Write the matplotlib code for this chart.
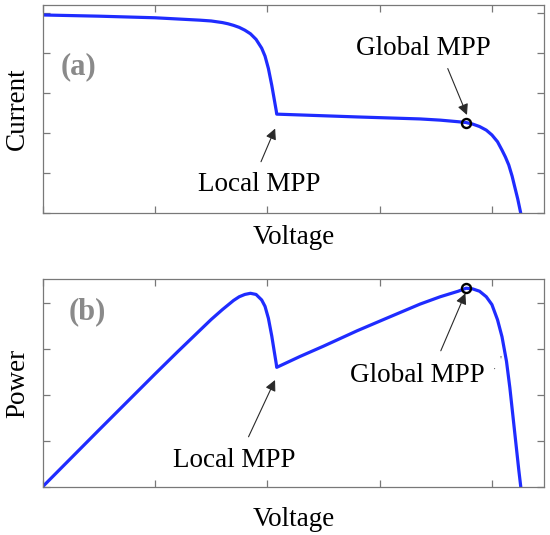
import matplotlib
matplotlib.use("Agg")
import matplotlib.pyplot as plt

# ---- data ----
voltage_i = [0, 5, 10, 12, 14, 15, 16, 16.5, 17, 17.5, 18, 18.5, 19, 19.5, 19.8,
             20.1, 20.4, 20.6, 20.8, 20.84,
             22.9, 28.0, 33.6, 35.4, 37.0, 37.7, 38.3, 38.9, 39.5, 40.0, 40.5,
             40.9, 41.2, 41.5, 41.8, 42.0, 42.3, 42.57]
current = [4.96, 4.93, 4.89, 4.86, 4.83, 4.81, 4.77, 4.74, 4.70, 4.65, 4.58, 4.49,
           4.35, 4.13, 3.93, 3.62, 3.20, 2.88, 2.56, 2.48,
           2.46, 2.41, 2.36, 2.33, 2.29, 2.27, 2.23, 2.17, 2.08, 1.96, 1.79,
           1.58, 1.41, 1.21, 0.93, 0.70, 0.36, 0.0]

voltage_p = [0, 5, 10, 12, 14, 15, 16, 16.5, 17, 17.5, 18, 18.5, 19, 19.5, 19.8,
             20.1, 20.4, 20.6, 20.8, 20.84,
             22.9, 25.0, 28.0, 30.5, 33.6, 35.4, 37.0, 37.7, 38.3, 38.9, 39.5,
             40.0, 40.5, 40.9, 41.3, 41.6, 41.9, 42.2, 42.4, 42.57]
power = [0, 24.6, 49.0, 58.6, 68.0, 72.7, 77.0, 79.0, 81.0, 82.6, 83.6, 84.1,
         83.6, 81.2, 78.4, 73.2, 65.5, 59.4, 53.4, 51.9,
         56.6, 61.1, 67.8, 73.0, 79.4, 82.6, 85.0, 86.3, 86.0, 85.0, 82.6,
         79.2, 72.6, 65.2, 54.5, 43.0, 29.5, 16.0, 7.0, 0]

mpp_v = 37.7
mpp_i = 2.27
mpp_p = 86.3

x_ticks = [0, 10, 20, 30, 40]
i_ticks = [0, 1, 2, 3, 4, 5]
p_ticks = [0, 20, 40, 60, 80]

plt.rcParams['font.family'] = ['Liberation Serif', 'DejaVu Serif']

fig = plt.figure(figsize=(5.5, 5.35), dpi=100)
ax1 = fig.add_axes([0.0776, 0.6013, 0.9115, 0.3894])
ax2 = fig.add_axes([0.0776, 0.0903, 0.9115, 0.3877])

blue = '#1f2cff'
spine_col = '#787878'
fs = 19.5

def style(ax, yticks, ylim, ylabel, xpad):
    ax.set_xlim(0, 44.64)
    ax.set_ylim(*ylim)
    ax.set_xticks(x_ticks)
    ax.set_yticks(yticks)
    ax.tick_params(direction='in', length=5, width=0.9, color=spine_col,
                   top=True, right=True, labelbottom=False, labelleft=False)
    for s in ax.spines.values():
        s.set_color(spine_col)
        s.set_linewidth(0.9)
    ax.set_xlabel('Voltage', fontsize=fs, labelpad=xpad)
    ax.set_ylabel(ylabel, fontsize=fs, labelpad=9)

arrow = dict(arrowstyle='-|>', color='#2a2a2a', lw=0.8, mutation_scale=16,
             shrinkA=0, shrinkB=0)

# ---- (a) current ----
ax1.plot(voltage_i, current, color=blue, lw=2.3, solid_joinstyle='round')
ax1.plot([mpp_v], [mpp_i], 'o', ms=6.5, mfc='none', mec='black', mew=1.7)
style(ax1, i_ticks, (0, 5.21), 'Current', 8.6)
ax1.text(3.2, 3.67, '(a)', fontsize=22, fontweight='bold', color='#8a8a8a',
         ha='center', va='center')
ax1.annotate('', xy=(20.7, 2.12), xytext=(19.44, 1.29), arrowprops=arrow)
ax1.text(19.26, 0.72, 'Local MPP', fontsize=fs, ha='center', va='center')
ax1.annotate('', xy=(37.78, 2.46), xytext=(36.07, 3.62), arrowprops=arrow)
ax1.text(33.86, 4.12, 'Global MPP', fontsize=fs, ha='center', va='center')

# ---- (b) power ----
ax2.plot(voltage_p, power, color=blue, lw=2.3, solid_joinstyle='round')
ax2.plot([mpp_v], [mpp_p], 'o', ms=6.5, mfc='none', mec='black', mew=1.7,
         clip_on=False)
style(ax2, p_ticks, (0, 90.2), 'Power', 14.4)
ax2.text(3.95, 75.9, '(b)', fontsize=22, fontweight='bold', color='#8a8a8a',
         ha='center', va='center')
ax2.annotate('', xy=(20.69, 46.4), xytext=(18.33, 21.7), arrowprops=arrow)
ax2.text(17.08, 11.6, 'Local MPP', fontsize=fs, ha='center', va='center')
ax2.annotate('', xy=(37.64, 84.1), xytext=(35.45, 59.1), arrowprops=arrow)
ax2.text(33.4, 48.3, 'Global MPP', fontsize=fs, ha='center', va='center')
ax2.text(40.78, 55.1, "'", fontsize=8, ha='center', va='center', color='#555555')
ax2.text(40.25, 51.2, "\u00b7", fontsize=7, ha='center', va='center', color='#555555')

fig.savefig('out.png', dpi=100)
